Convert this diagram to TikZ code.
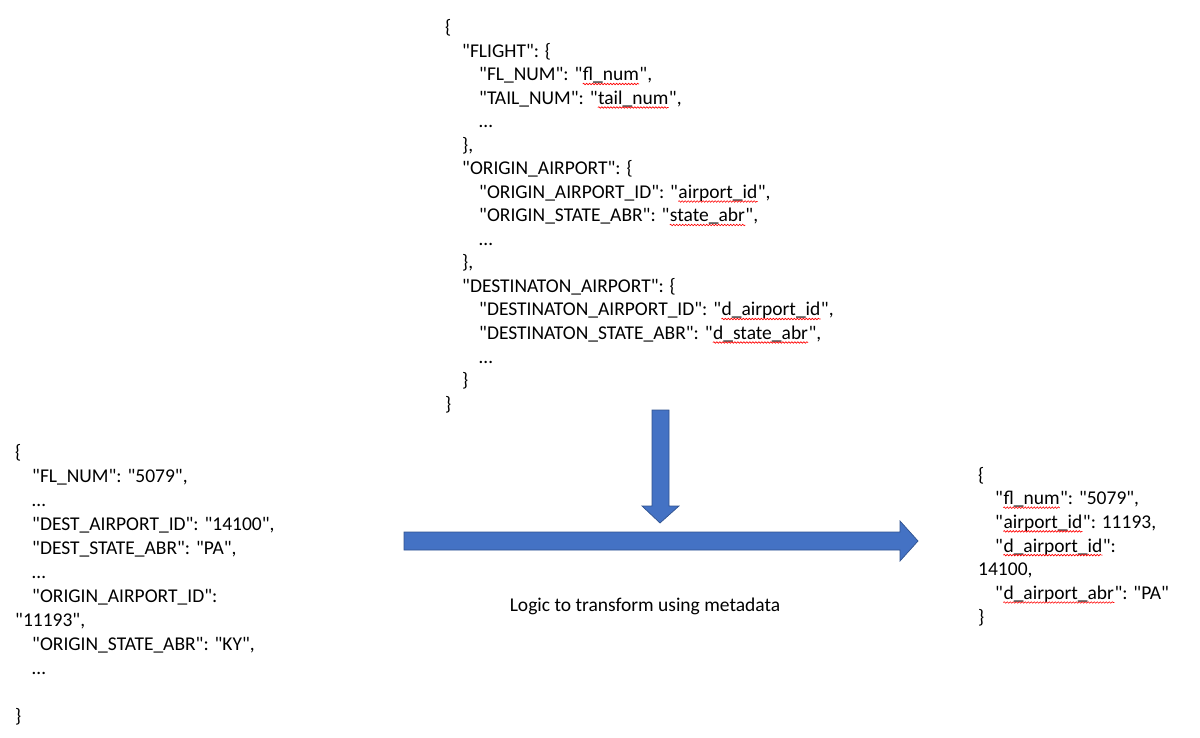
\documentclass[tikz,border=0pt]{standalone}
\usepackage{fontspec}
\setmainfont{Carlito}[Ligatures=TeXOff]
\usetikzlibrary{decorations.pathmorphing}
\newcommand\sq[1]{\tikz[baseline=(w.base)]{\node[inner sep=0pt,anchor=base] (w) {#1};\draw[red,line width=0.6pt,decorate,decoration={snake,amplitude=0.8pt,segment length=3pt}] ([yshift=-3pt]w.base west) -- ([yshift=-3pt]w.base east);}}
\begin{document}
\begin{tikzpicture}[x=1pt,y=-1pt,
  txt/.style={anchor=base west,inner sep=0pt,font=\fontsize{19.5}{23}\selectfont}]
\useasboundingbox (0,0) rectangle (1200,738);
\definecolor{arr}{HTML}{4472C4}
\definecolor{arrb}{HTML}{2F528F}
% top metadata block
\foreach \t [count=\i from 0] in {
  {\{},
  {\hspace*{17pt}"FLIGHT": \{},
  {\hspace*{34pt}"FL\_NUM": "\sq{fl\_num}",},
  {\hspace*{34pt}"TAIL\_NUM": "\sq{tail\_num}",},
  {\hspace*{34pt}\dots},
  {\hspace*{17pt}\},},
  {\hspace*{17pt}"ORIGIN\_AIRPORT": \{},
  {\hspace*{34pt}"ORIGIN\_AIRPORT\_ID": "\sq{airport\_id}",},
  {\hspace*{34pt}"ORIGIN\_STATE\_ABR": "\sq{state\_abr}",},
  {\hspace*{34pt}\dots},
  {\hspace*{17pt}\},},
  {\hspace*{17pt}"DESTINATON\_AIRPORT": \{},
  {\hspace*{34pt}"DESTINATON\_AIRPORT\_ID": "\sq{d\_airport\_id}",},
  {\hspace*{34pt}"DESTINATON\_STATE\_ABR": "\sq{d\_state\_abr}",},
  {\hspace*{34pt}\dots},
  {\hspace*{17pt}\}},
  {\}}}
  \node[txt] (m\i) at (445,{34+23.5*\i}) {\t};
% left input block
\foreach \t [count=\i from 0] in {
  {\{},
  {\hspace*{17pt}"FL\_NUM": "5079",},
  {\hspace*{17pt}\dots},
  {\hspace*{17pt}"DEST\_AIRPORT\_ID": "14100",},
  {\hspace*{17pt}"DEST\_STATE\_ABR": "PA",},
  {\hspace*{17pt}\dots},
  {\hspace*{17pt}"ORIGIN\_AIRPORT\_ID":},
  {"11193",},
  {\hspace*{17pt}"ORIGIN\_STATE\_ABR": "KY",},
  {\hspace*{17pt}\dots},
  {},
  {\}}}
  \node[txt] (l\i) at (15,{458+24*\i}) {\t};
% right output block
\foreach \t [count=\i from 0] in {
  {\{},
  {\hspace*{17pt}"\sq{fl\_num}": "5079",},
  {\hspace*{17pt}"\sq{airport\_id}": 11193,},
  {\hspace*{17pt}"\sq{d\_airport\_id}":},
  {14100,},
  {\hspace*{17pt}"\sq{d\_airport\_abr}": "PA"},
  {\}}}
  \node[txt] (r\i) at (978,{481+23.7*\i}) {\t};
\node[anchor=center,inner sep=0pt,font=\fontsize{19.5}{23}\selectfont] (lbl) at (645,606) {Logic to transform using metadata};
% arrows
\draw[fill=arr,draw=arrb,line width=0.7pt] (404,532) -- (900,532) -- (900,521) -- (918,541) -- (900,561) -- (900,550) -- (404,550) -- cycle;
\draw[fill=arr,draw=arrb,line width=0.7pt] (652,410) -- (669,410) -- (669,506) -- (679,506) -- (660,523) -- (642,506) -- (652,506) -- cycle;
\end{tikzpicture}
\end{document}
